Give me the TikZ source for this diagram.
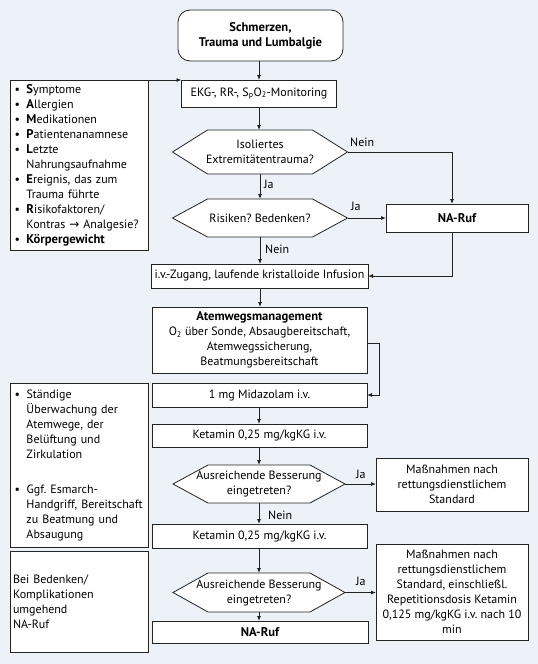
\documentclass[tikz,border=0pt]{standalone}
\usepackage{fontspec}
\setmainfont{PT Sans}
\newfontfamily\arrowfont{DejaVu Sans}
\usetikzlibrary{arrows.meta}
\pgfdeclarelayer{bg}
\pgfsetlayers{bg,main}
\definecolor{bgblue}{RGB}{237,241,248}
\definecolor{ln}{RGB}{35,35,35}
\newcommand\bul{\makebox[12pt][l]{•}}
\newcommand\ind{\hspace*{12pt}}
\newcommand\bfbig{\fontsize{12.6}{15}\selectfont\bfseries}
\tikzset{
  box/.style={draw=ln, fill=white, line width=0.8pt, inner sep=2pt, outer sep=0pt, align=center},
  hexn/.style={inner sep=0pt, outer sep=0pt, align=center},
  hexdraw/.style={draw=ln, fill=white, line width=0.8pt},
  leftbox/.style={box, align=left, minimum width=138pt, inner xsep=4.5pt, text width=129pt},
  arr/.style={draw=ln, line width=0.8pt, -{Latex[length=5pt,width=4pt]}},
  lbl/.style={inner sep=0pt, anchor=west}
}
\newcommand\hexoutline[1]{%
  \begin{pgfonlayer}{bg}
  \filldraw[hexdraw] (#1.west) -- ([xshift=35pt]#1.north west) -- ([xshift=-35pt]#1.north east)
    -- (#1.east) -- ([xshift=-35pt]#1.south east) -- ([xshift=35pt]#1.south west) -- cycle;
  \end{pgfonlayer}}
\begin{document}
\frenchspacing
\fontsize{12}{15}\selectfont
\begin{tikzpicture}[x=1pt,y=-1pt]
\begin{pgfonlayer}{bg}
\fill[bgblue] (0,0) rectangle (538,664);
\end{pgfonlayer}
\useasboundingbox (0,0) rectangle (538,664);

% main column
\node[box, rounded corners=12pt, minimum width=165pt, minimum height=51pt, font=\bfbig] (start) at (260.5,35.5) {Schmerzen,\\Trauma und Lumbalgie};
\node[box, minimum width=155pt, minimum height=27pt] (ekg) at (259,93.5) {EKG-, RR-, S\textsubscript{p}O\textsubscript{2}-Monitoring};
\node[hexn, minimum width=175pt, minimum height=44pt] (d1) at (260,152) {Isoliertes\\Extremitätentrauma?};
\hexoutline{d1}
\node[hexn, minimum width=175pt, minimum height=38pt] (d2) at (260,218) {Risiken? Bedenken?};
\hexoutline{d2}
\node[box, minimum width=142pt, minimum height=28pt, font=\bfbig] (naruf1) at (457,218) {NA-Ruf};
\node[box, minimum width=217pt, minimum height=24pt] (iv) at (259.5,276) {i.v.-Zugang, laufende kristalloide Infusion};
\node[box, minimum width=215pt, minimum height=66pt] (atem) at (259.5,340) {{\bfbig Atemwegsmanagement}\\O\textsubscript{2} über Sonde, Absaugbereitschaft,\\Atemwegssicherung,\\Beatmungsbereitschaft};
\node[box, minimum width=215pt, minimum height=24pt] (mida) at (259.5,395) {1 mg Midazolam i.v.};
\node[box, minimum width=215pt, minimum height=23pt] (ket1) at (259.5,435.5) {Ketamin 0,25 mg/kgKG i.v.};
\node[hexn, minimum width=172pt, minimum height=38pt] (d3) at (259,484) {Ausreichende Besserung\\eingetreten?};
\hexoutline{d3}
\node[box, minimum width=152pt, minimum height=53pt] (mass1) at (452,484.5) {Maßnahmen nach\\rettungsdienstlichem\\Standard};
\node[box, minimum width=215pt, minimum height=24pt] (ket2) at (259.5,536) {Ketamin 0,25 mg/kgKG i.v.};
\node[hexn, minimum width=172pt, minimum height=39pt] (d4) at (259,592.5) {Ausreichende Besserung\\eingetreten?};
\hexoutline{d4}
\node[box, minimum width=152pt, minimum height=96pt] (mass2) at (452,592) {Maßnahmen nach\\rettungsdienstlichem\\Standard, einschließl.\\Repetitionsdosis Ketamin\\0,125 mg/kgKG i.v. nach 10\\min};
\node[box, minimum width=216pt, minimum height=22pt, font=\bfbig] (naruf2) at (260,632) {NA-Ruf};

% left column
\node[leftbox, minimum height=170pt] (sampler) at (79,165) {%
\bul{\bfbig S}ymptome\\
\bul{\bfbig A}llergien\\
\bul{\bfbig M}edikationen\\
\bul{\bfbig P}atientenanamnese\\
\bul{\bfbig L}etzte\\
\ind Nahrungsaufnahme\\
\bul{\bfbig E}reignis, das zum\\
\ind Trauma führte\\
\bul{\bfbig R}isikofaktoren/\\
\ind Kontras {\arrowfont→} Analgesie?\\
\bul{\bfbig Körpergewicht}};
\node[leftbox, minimum height=164pt] (left2) at (79,465) {%
\bul Ständige\\
\ind Überwachung der\\
\ind Atemwege, der\\
\ind Belüftung und\\
\ind Zirkulation\\[20pt]
\bul Ggf. Esmarch-\\
\ind Handgriff, Bereitschaft\\
\ind zu Beatmung und\\
\ind Absaugung};
\node[leftbox, minimum height=101pt, inner xsep=3pt, text width=132pt] (left3) at (79,601.5) {%
Bei Bedenken/\\
Komplikationen\\
umgehend\\
NA-Ruf};

% connectors
\draw[arr] (start.south -| ekg.north) -- (ekg.north);
\draw[arr] (ekg.south) -- (ekg.south |- d1.north);
\draw[arr] (d1.south) -- (d2.north);
\draw[arr] (d2.south) -- (d2.south |- iv.north);
\draw[arr] (iv.south -| d2.south) -- (d2.south |- atem.north);
\draw[arr] (mida.south -| d3.north) -- (ket1.north -| d3.north);
\draw[arr] (ket1.south -| d3.north) -- (d3.north);
\draw[arr] (d3.south) -- (ket2.north -| d3.south);
\draw[arr] (ket2.south -| d4.north) -- (d4.north);
\draw[arr] (d4.south) -- (naruf2.north -| d4.south);
\draw[arr] (d1.east) -| ([xshift=-5pt]naruf1.north);
\draw[arr] (d2.east) -- (naruf1.west);
\draw[arr] ([xshift=-5pt]naruf1.south) |- (iv.east);
\draw[arr] ([yshift=-3pt]atem.east) -- ++(12,0) |- (mida.east);
\draw[arr] (d3.east) -- (d3.east -| mass1.west);
\draw[arr] (d4.east) -- (d4.east -| mass2.west);
\draw[arr] (sampler.north east) -- (ekg.north west);

% labels
\node[lbl] (l1) at (350,142) {Nein};
\node[lbl] (l2) at (264,184) {Ja};
\node[lbl] (l3) at (351,206) {Ja};
\node[lbl] (l4) at (265,249) {Nein};
\node[lbl] (l5) at (356,474) {Ja};
\node[lbl] (l6) at (268,515) {Nein};
\node[lbl] (l7) at (356,581) {Ja};
\end{tikzpicture}
\end{document}
